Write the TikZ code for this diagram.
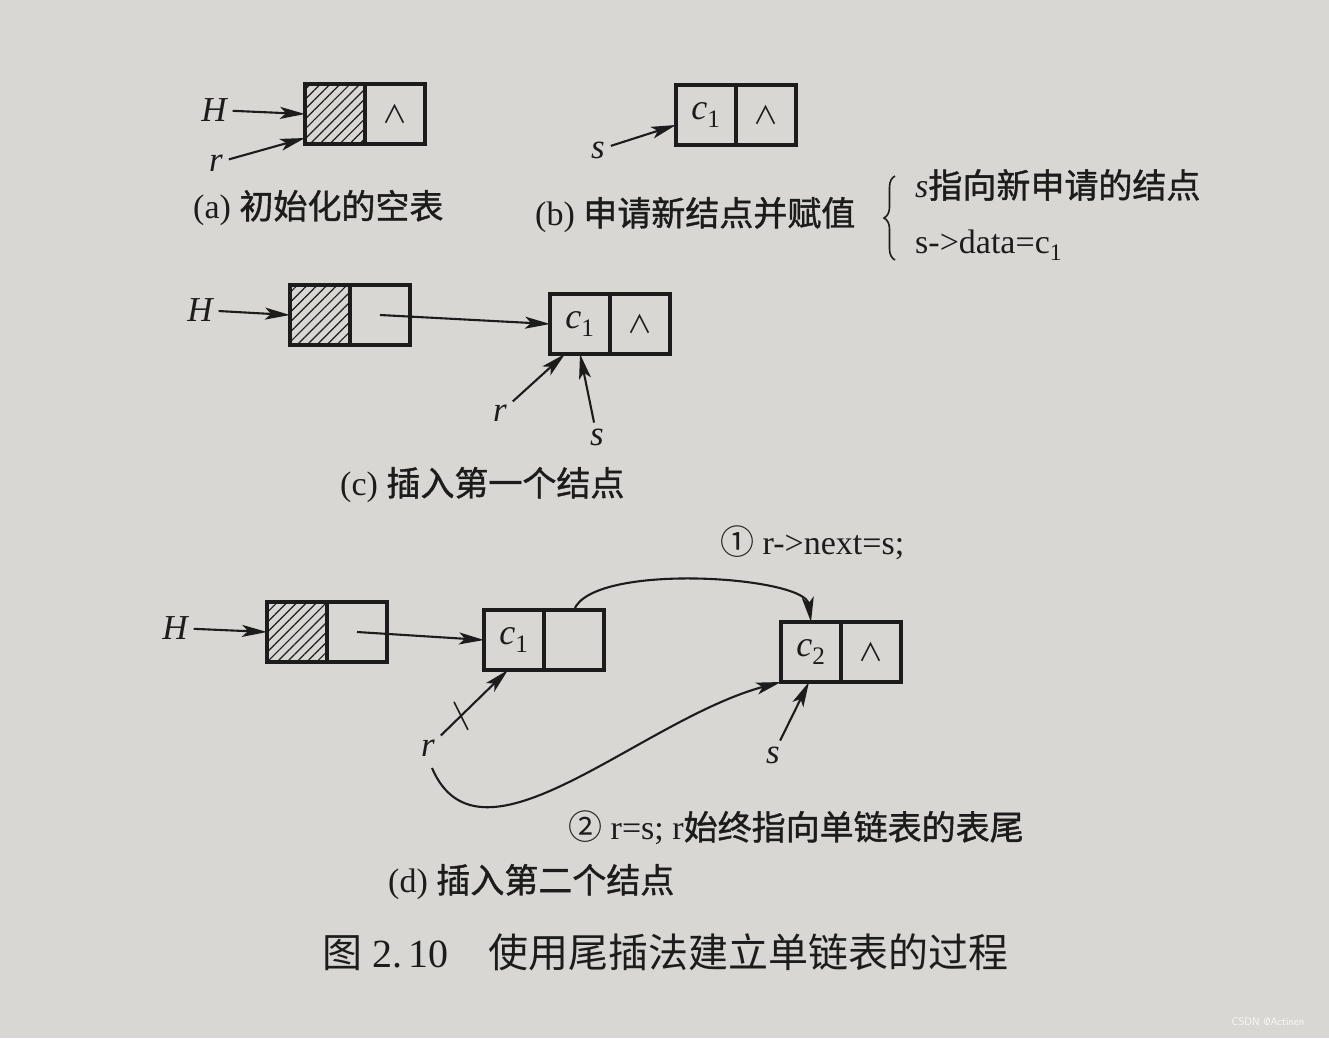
\documentclass[tikz,border=0pt]{standalone}
\usepackage{fontspec}
\setmainfont{Liberation Serif}
\newfontfamily\cjk{Noto Sans CJK SC}
\newfontfamily\cjkm[FakeBold=1.2]{Noto Sans CJK SC}
\usetikzlibrary{positioning, arrows.meta, patterns.meta, decorations.pathreplacing}

\definecolor{paper}{RGB}{216,215,211}
\definecolor{ink}{RGB}{28,28,28}
\newcommand{\nil}{{\cjk\fontsize{25}{25}\selectfont ∧}}

\tikzset{
  cell/.style={draw=ink, line width=3.4pt, minimum width=60pt, minimum height=60pt,
    inner sep=0pt, outer sep=0pt, text=ink, font=\fontsize{36}{36}\selectfont},
  hatched/.style={cell, pattern={Lines[angle=45, distance=7pt, line width=1.2pt]}, pattern color=ink},
  ptr/.style={draw=ink, line width=2.1pt, -{Stealth[length=25pt, width=12pt, inset=6pt]}},
  ptrname/.style={font=\fontsize{35}{35}\selectfont\itshape, text=ink, inner sep=1pt, outer sep=5pt},
  captxt/.style={font=\fontsize{34}{38}\selectfont, text=ink, anchor=west, inner sep=0pt},
}

\begin{document}
\begin{tikzpicture}[x=1pt, y=-1pt]
  \fill[paper] (0,0) rectangle (1329,1038);
  \useasboundingbox (0,0) rectangle (1329,1038);

  % (a) empty list
  \node[hatched] (ah) at (335,114) {};
  \node[cell, right=0pt of ah] (an) {\nil};
  \node[ptrname] (Ha) at (214,110) {H};
  \node[ptrname] (ra) at (216,163) {r};
  \draw[ptr] (Ha) -- (ah.west);
  \draw[ptr] (ra) -- ([yshift=6pt]ah.south west);
  \node[captxt] (capa) at (193,208) {(a) \cjkm 初始化的空表};

  % (b) new node
  \node[cell] (b1) at (706,115) {\textit{c}\textsubscript{1}};
  \node[cell, right=0pt of b1] (b1n) {\nil};
  \node[ptrname] (sb) at (598,150) {s};
  \draw[ptr] (sb) -- ([yshift=20pt]b1.south west);
  \node[captxt] (capb) at (535,215) {(b) \cjkm 申请新结点并赋值};
  \draw[ink, line width=1.6pt, decorate, decoration={brace, amplitude=11pt}] (895,260) -- (895,176);
  \node[captxt] (sb1) at (915,185) {\textit{s}{\cjkm 指向新申请的结点}};
  \node[captxt] (sb2) at (915,245) {s->data=c\textsubscript{1}};

  % (c) first node
  \node[hatched] (ch) at (320,315) {};
  \node[cell, right=0pt of ch] (chn) {};
  \node[cell] (c1) at (580,324) {\textit{c}\textsubscript{1}};
  \node[cell, right=0pt of c1] (c1n) {\nil};
  \node[ptrname] (Hc) at (200,310) {H};
  \node[ptrname] (rc) at (500,413) {r};
  \node[ptrname] (sc) at (597,437) {s};
  \draw[ptr] (Hc) -- (ch.west);
  \draw[ptr] (chn.center) -- (c1.west);
  \draw[ptr] (rc) -- ([xshift=15pt]c1.south west);
  \draw[ptr] (sc) -- (c1.south);
  \node[captxt] (capc) at (340,485) {(c) \cjkm 插入第一个结点};

  % (d) second node
  \node[hatched] (dh) at (297,632) {};
  \node[cell, right=0pt of dh] (dhn) {};
  \node[cell] (d1) at (514,640) {\textit{c}\textsubscript{1}};
  \node[cell, right=0pt of d1] (d1n) {};
  \node[cell] (d2) at (811,652) {\textit{c}\textsubscript{2}};
  \node[cell, right=0pt of d2] (d2n) {\nil};
  \node[ptrname] (Hd) at (175,628) {H};
  \node[ptrname] (rd) at (428,748) {r};
  \node[ptrname] (sd) at (773,755) {s};
  \draw[ptr] (Hd) -- (dh.west);
  \draw[ptr] (dhn.center) -- (d1.west);
  \draw[ptr] (rd) -- coordinate[pos=.3] (cut) ([xshift=24pt]d1.south west);
  \draw[ink, line width=1.6pt] ([shift={(-7,-14)}]cut) -- ([shift={(7,14)}]cut);
  \draw[ptr] (sd) -- ([xshift=28pt]d2.south west);
  \draw[ptr] (d1n.north) .. controls +(18,-48) and +(-6,-46) .. (d2.north);
  \coordinate (rfrom) at (432,768);
  \draw[ptr] (rfrom) .. controls (480,880) and (640,720) .. (d2.south west);
  \node[captxt] (st1) at (720,543) {{\cjk ①} r->next=s;};
  \node[captxt] (st2) at (568,828) {{\cjk ②} r=s; r{\cjkm 始终指向单链表的表尾}};
  \node[captxt] (capd) at (388,882) {(d) \cjkm 插入第二个结点};

  \node[captxt, font=\fontsize{40}{44}\selectfont] (fig) at (322,952)
    {{\cjk 图} 2.\,10\hspace{40pt}{\cjk 使用尾插法建立单链表的过程}};
  \node[text=white!85!paper, font=\sffamily\fontsize{11}{11}\selectfont] (wm) at (1268,1022) {CSDN @Actinen};
\end{tikzpicture}
\end{document}
